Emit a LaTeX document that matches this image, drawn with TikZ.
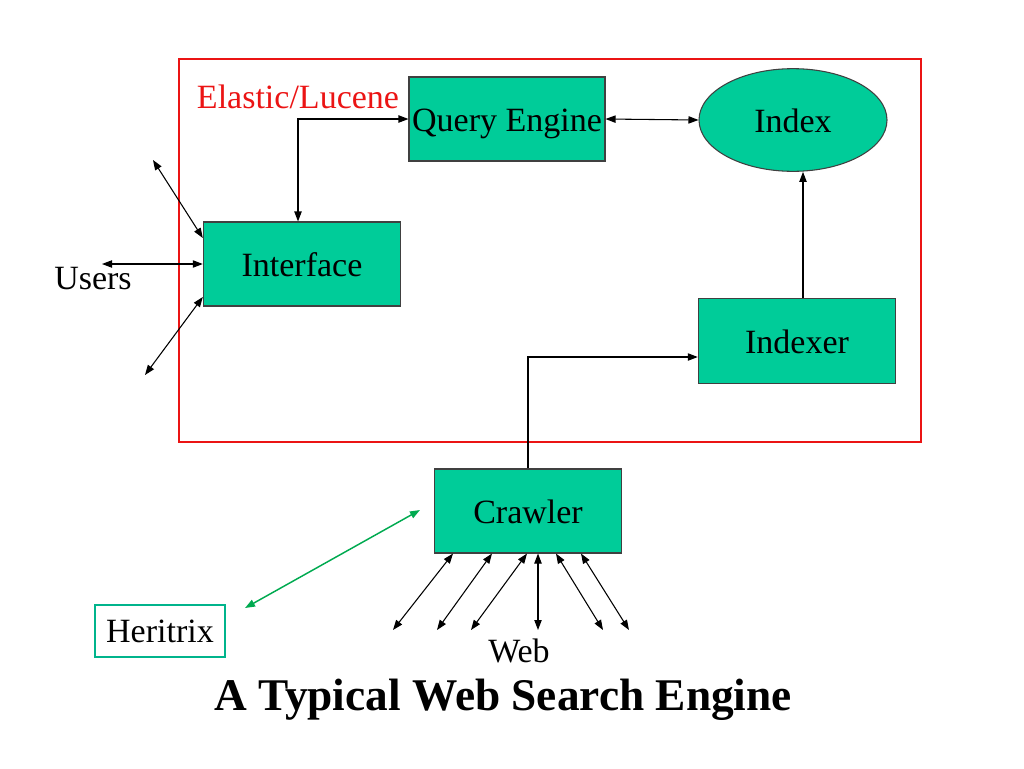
\documentclass[tikz,border=0pt]{standalone}
\usepackage{fontspec}
\setmainfont{Liberation Serif}
\usetikzlibrary{arrows.meta}
\usetikzlibrary{shapes.geometric}

\definecolor{boxgreen}{RGB}{0,204,153}
\definecolor{framered}{RGB}{235,20,20}
\definecolor{linkgreen}{RGB}{0,170,80}
\definecolor{heriteal}{RGB}{0,180,140}

\begin{document}
\begin{tikzpicture}[x=0.75pt, y=-0.75pt,
	block/.style={draw=black!75, line width=0.8pt, fill=boxgreen, inner sep=0pt, minimum width=148pt, minimum height=63pt, text height=19pt, text depth=0pt, font=\fontsize{25.5}{29}\selectfont},
	tip/.style={{Triangle[length=7.5pt,width=5.5pt]}-{Triangle[length=7.5pt,width=5.5pt]}, line width=0.8pt},
	>={Triangle[length=7.5pt,width=5.5pt]}]
	\useasboundingbox (0,0) rectangle (1024,768);
	\draw[framered, line width=1.6pt] (179,59) rectangle (921,442);
	\node[text=framered, font=\fontsize{25.5}{29}\selectfont] (lucene) at (298,97) {Elastic/Lucene};
	\node[block, minimum width=147pt] (query) at (507,119) {Query Engine};
	\node[block, ellipse, minimum width=141pt, minimum height=77pt] (index) at (793,120) {Index};
	\node[block] (interface) at (302,264) {Interface};
	\node[block, minimum height=64pt] (indexer) at (797,341) {Indexer};
	\node[block, minimum width=140pt] (crawler) at (528,511) {Crawler};
	\node[draw=heriteal, line width=0.8pt, inner sep=0pt, minimum width=97.5pt, minimum height=39pt, font=\fontsize{25.5}{29}\selectfont] (heritrix) at (160,631) {Heritrix};
	\node[font=\fontsize{25.5}{29}\selectfont] (users) at (93,279) {Users};
	\node[font=\fontsize{25.5}{29}\selectfont] (web) at (519,651) {Web};
	\node[font=\bfseries\fontsize{34}{40}\selectfont] (title) at (503,700) {A Typical Web Search Engine};
	% connectors inside the engine
	\draw[tip] (interface.north -| 298,0) |- (query.west);
	\draw[tip] (query.east) -- (index.west);
	\draw[->, line width=0.8pt] (indexer.north -| 803,0) -- (index.south -| 803,0);
	\draw[->, line width=0.8pt] (crawler.north) |- (indexer.west |- 0,357);
	% users
	\coordinate (u1) at (153,160);
	\coordinate (u2) at (102,264);
	\coordinate (u3) at (145,375);
	\draw[tip] (u1) -- (interface.west |- 0,238);
	\draw[tip] (u2) -- (interface.west);
	\draw[tip] (u3) -- (interface.west |- 0,297);
	% web
	\foreach \a/\b in {453/393, 492/437, 527/471, 538/538, 556/603, 581/629}
	  \draw[tip] (crawler.south -| \a,0) -- (\b,630);
	% heritrix
	\coordinate (h1) at (245,608);
	\coordinate (h2) at (420,510);
	\draw[tip, linkgreen, line width=1.1pt] (h1) -- (h2);
\end{tikzpicture}
\end{document}
